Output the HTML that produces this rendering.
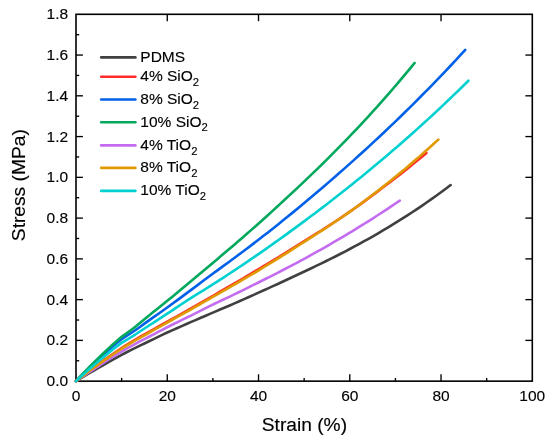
<!DOCTYPE html>
<html><head><meta charset="utf-8"><title>Stress-Strain</title>
<style>
html,body{margin:0;padding:0;background:#fff;}
svg{display:block}
text{font-family:"Liberation Sans",Arial,sans-serif;fill:#000;stroke:#000;stroke-width:0.14px}
</style></head><body>
<svg width="550" height="441" viewBox="0 0 550 441">
<rect width="550" height="441" fill="#fff"/>
<g stroke="#000" stroke-width="1.35" fill="none">
<line x1="121.63" y1="381.15" x2="121.63" y2="377.95"/>
<line x1="167.26" y1="381.15" x2="167.26" y2="374.25"/>
<line x1="167.26" y1="14.3" x2="167.26" y2="21.20"/>
<line x1="212.89" y1="381.15" x2="212.89" y2="377.95"/>
<line x1="258.52" y1="381.15" x2="258.52" y2="374.25"/>
<line x1="258.52" y1="14.3" x2="258.52" y2="21.20"/>
<line x1="304.15" y1="381.15" x2="304.15" y2="377.95"/>
<line x1="349.78" y1="381.15" x2="349.78" y2="374.25"/>
<line x1="349.78" y1="14.3" x2="349.78" y2="21.20"/>
<line x1="395.41" y1="381.15" x2="395.41" y2="377.95"/>
<line x1="441.04" y1="381.15" x2="441.04" y2="374.25"/>
<line x1="441.04" y1="14.3" x2="441.04" y2="21.20"/>
<line x1="486.67" y1="381.15" x2="486.67" y2="377.95"/>
<line x1="76.0" y1="360.77" x2="79.20" y2="360.77"/>
<line x1="76.0" y1="340.39" x2="82.90" y2="340.39"/>
<line x1="532.3" y1="340.39" x2="525.40" y2="340.39"/>
<line x1="76.0" y1="320.01" x2="79.20" y2="320.01"/>
<line x1="76.0" y1="299.63" x2="82.90" y2="299.63"/>
<line x1="532.3" y1="299.63" x2="525.40" y2="299.63"/>
<line x1="76.0" y1="279.25" x2="79.20" y2="279.25"/>
<line x1="76.0" y1="258.87" x2="82.90" y2="258.87"/>
<line x1="532.3" y1="258.87" x2="525.40" y2="258.87"/>
<line x1="76.0" y1="238.49" x2="79.20" y2="238.49"/>
<line x1="76.0" y1="218.11" x2="82.90" y2="218.11"/>
<line x1="532.3" y1="218.11" x2="525.40" y2="218.11"/>
<line x1="76.0" y1="197.72" x2="79.20" y2="197.72"/>
<line x1="76.0" y1="177.34" x2="82.90" y2="177.34"/>
<line x1="532.3" y1="177.34" x2="525.40" y2="177.34"/>
<line x1="76.0" y1="156.96" x2="79.20" y2="156.96"/>
<line x1="76.0" y1="136.58" x2="82.90" y2="136.58"/>
<line x1="532.3" y1="136.58" x2="525.40" y2="136.58"/>
<line x1="76.0" y1="116.20" x2="79.20" y2="116.20"/>
<line x1="76.0" y1="95.82" x2="82.90" y2="95.82"/>
<line x1="532.3" y1="95.82" x2="525.40" y2="95.82"/>
<line x1="76.0" y1="75.44" x2="79.20" y2="75.44"/>
<line x1="76.0" y1="55.06" x2="82.90" y2="55.06"/>
<line x1="532.3" y1="55.06" x2="525.40" y2="55.06"/>
<line x1="76.0" y1="34.68" x2="79.20" y2="34.68"/>
</g>
<rect x="76.0" y="14.3" width="456.30" height="366.85" stroke="#000" stroke-width="1.6" fill="none"/>
<g fill="none" stroke-width="2.6" stroke-linecap="round" stroke-linejoin="round">
<path d="M76.00,381.15 L80.56,378.39 L85.13,375.66 L89.69,372.95 L94.25,370.28 L98.81,367.63 L103.38,365.00 L107.94,362.42 L112.50,359.87 L117.07,357.37 L121.63,354.91 L126.19,352.50 L130.76,350.14 L135.32,347.87 L139.88,345.66 L144.44,343.47 L149.01,341.28 L153.57,339.06 L158.13,336.84 L162.70,334.64 L167.26,332.50 L172.06,330.32 L176.87,328.19 L181.67,326.09 L186.47,324.00 L191.27,321.92 L196.08,319.84 L200.88,317.78 L205.68,315.73 L210.48,313.67 L215.29,311.61 L220.09,309.56 L224.89,307.50 L229.70,305.44 L234.50,303.36 L239.30,301.26 L244.10,299.13 L248.91,296.99 L253.71,294.84 L258.51,292.68 L263.32,290.52 L268.12,288.34 L272.92,286.15 L277.72,283.95 L282.53,281.74 L287.33,279.52 L292.13,277.29 L296.93,275.05 L301.74,272.80 L306.54,270.53 L311.34,268.25 L316.15,265.95 L320.95,263.63 L325.75,261.28 L330.55,258.89 L335.36,256.47 L340.16,254.02 L344.96,251.54 L349.76,249.02 L354.57,246.46 L359.37,243.86 L364.17,241.22 L368.98,238.54 L373.78,235.81 L378.58,233.04 L383.38,230.23 L388.19,227.36 L392.99,224.45 L397.79,221.48 L402.59,218.47 L407.40,215.41 L412.20,212.28 L417.00,209.09 L421.81,205.83 L426.61,202.52 L431.41,199.15 L436.21,195.72 L441.02,192.24 L445.82,188.69 L450.62,185.08" stroke="#404040"/>
<path d="M76.00,381.15 L80.56,377.56 L85.13,374.04 L89.69,370.57 L94.25,367.18 L98.81,363.84 L103.38,360.56 L107.94,357.34 L112.50,354.20 L117.07,351.11 L121.63,348.08 L126.19,345.12 L130.76,342.27 L135.32,339.54 L139.88,336.93 L144.44,334.39 L149.01,331.85 L153.57,329.29 L158.13,326.75 L162.70,324.21 L167.26,321.66 L171.65,319.22 L176.05,316.78 L180.44,314.33 L184.83,311.87 L189.22,309.39 L193.62,306.89 L198.01,304.37 L202.40,301.84 L206.80,299.31 L211.19,296.78 L215.58,294.26 L219.97,291.74 L224.37,289.22 L228.76,286.68 L233.15,284.14 L237.55,281.58 L241.94,279.01 L246.33,276.44 L250.72,273.84 L255.12,271.23 L259.51,268.60 L263.90,265.96 L268.30,263.32 L272.69,260.66 L277.08,258.00 L281.47,255.32 L285.87,252.61 L290.26,249.89 L294.65,247.15 L299.05,244.40 L303.44,241.65 L307.83,238.91 L312.22,236.19 L316.62,233.47 L321.01,230.73 L325.40,227.95 L329.80,225.11 L334.19,222.25 L338.58,219.35 L342.97,216.41 L347.37,213.42 L351.76,210.37 L356.15,207.26 L360.55,204.09 L364.94,200.88 L369.33,197.64 L373.72,194.38 L378.12,191.11 L382.51,187.83 L386.90,184.52 L391.30,181.18 L395.69,177.79 L400.08,174.36 L404.47,170.90 L408.87,167.39 L413.26,163.85 L417.65,160.27 L422.05,156.65 L426.44,152.99" stroke="#ff2c2c"/>
<path d="M76.00,381.15 L80.56,376.48 L85.13,371.90 L89.69,367.43 L94.25,363.06 L98.81,358.79 L103.38,354.61 L107.94,350.52 L112.50,346.56 L117.07,342.73 L121.63,339.12 L126.19,336.16 L130.76,333.24 L135.32,330.22 L139.88,326.93 L144.44,323.58 L149.01,320.33 L153.57,317.13 L158.13,313.95 L162.70,310.74 L167.26,307.49 L172.31,303.82 L177.36,300.11 L182.41,296.37 L187.46,292.62 L192.51,288.87 L197.56,285.10 L202.61,281.32 L207.66,277.54 L212.71,273.79 L217.76,270.08 L222.81,266.40 L227.86,262.73 L232.91,259.03 L237.96,255.28 L243.01,251.50 L248.06,247.70 L253.11,243.86 L258.16,239.99 L263.21,236.09 L268.26,232.15 L273.31,228.17 L278.37,224.16 L283.42,220.11 L288.47,216.01 L293.52,211.88 L298.57,207.72 L303.62,203.53 L308.67,199.31 L313.72,195.06 L318.77,190.78 L323.82,186.47 L328.87,182.12 L333.92,177.74 L338.97,173.33 L344.02,168.88 L349.07,164.40 L354.12,159.88 L359.17,155.32 L364.22,150.73 L369.27,146.10 L374.32,141.42 L379.37,136.71 L384.42,131.96 L389.47,127.17 L394.52,122.34 L399.57,117.46 L404.62,112.54 L409.67,107.58 L414.72,102.58 L419.77,97.53 L424.82,92.43 L429.87,87.29 L434.92,82.10 L439.97,76.87 L445.02,71.58 L450.07,66.25 L455.12,60.86 L460.17,55.43 L465.22,49.95" stroke="#0060e8"/>
<path d="M76.00,381.15 L80.56,376.23 L85.13,371.41 L89.69,366.71 L94.25,362.10 L98.81,357.60 L103.38,353.20 L107.94,348.91 L112.50,344.73 L117.07,340.68 L121.63,336.85 L126.19,333.58 L130.76,330.28 L135.32,326.85 L139.88,323.08 L144.44,319.22 L149.01,315.50 L153.57,311.83 L158.13,308.18 L162.70,304.52 L167.26,300.82 L171.45,297.38 L175.64,293.91 L179.84,290.43 L184.03,286.93 L188.22,283.44 L192.41,279.95 L196.60,276.46 L200.79,272.96 L204.99,269.46 L209.18,265.94 L213.37,262.42 L217.56,258.89 L221.75,255.34 L225.94,251.79 L230.14,248.22 L234.33,244.64 L238.52,241.03 L242.71,237.42 L246.90,233.79 L251.10,230.13 L255.29,226.45 L259.48,222.73 L263.67,218.97 L267.86,215.17 L272.05,211.35 L276.25,207.51 L280.44,203.65 L284.63,199.78 L288.82,195.90 L293.01,192.01 L297.20,188.09 L301.40,184.14 L305.59,180.16 L309.78,176.15 L313.97,172.12 L318.16,168.06 L322.36,163.96 L326.55,159.83 L330.74,155.65 L334.93,151.44 L339.12,147.19 L343.31,142.91 L347.51,138.58 L351.70,134.21 L355.89,129.79 L360.08,125.34 L364.27,120.84 L368.47,116.29 L372.66,111.70 L376.85,107.06 L381.04,102.37 L385.23,97.63 L389.42,92.84 L393.62,88.00 L397.81,83.12 L402.00,78.17 L406.19,73.17 L410.38,68.11 L414.57,63.00" stroke="#00a85c"/>
<path d="M76.00,381.15 L80.56,378.00 L85.13,374.88 L89.69,371.82 L94.25,368.80 L98.81,365.81 L103.38,362.86 L107.94,359.97 L112.50,357.13 L117.07,354.35 L121.63,351.61 L126.19,348.93 L130.76,346.34 L135.32,343.86 L139.88,341.46 L144.44,339.10 L149.01,336.73 L153.57,334.33 L158.13,331.93 L162.70,329.56 L167.26,327.22 L171.20,325.24 L175.14,323.29 L179.08,321.36 L183.02,319.44 L186.97,317.51 L190.91,315.56 L194.85,313.59 L198.79,311.60 L202.73,309.60 L206.67,307.62 L210.61,305.66 L214.55,303.74 L218.50,301.86 L222.44,300.01 L226.38,298.16 L230.32,296.31 L234.26,294.43 L238.20,292.52 L242.14,290.58 L246.08,288.63 L250.03,286.67 L253.97,284.70 L257.91,282.72 L261.85,280.75 L265.79,278.78 L269.73,276.80 L273.67,274.81 L277.61,272.81 L281.55,270.78 L285.50,268.74 L289.44,266.69 L293.38,264.62 L297.32,262.53 L301.26,260.42 L305.20,258.28 L309.14,256.12 L313.08,253.94 L317.03,251.73 L320.97,249.51 L324.91,247.26 L328.85,245.01 L332.79,242.73 L336.73,240.44 L340.67,238.12 L344.61,235.78 L348.55,233.43 L352.50,231.05 L356.44,228.65 L360.38,226.22 L364.32,223.77 L368.26,221.30 L372.20,218.80 L376.14,216.27 L380.08,213.72 L384.03,211.14 L387.97,208.54 L391.91,205.91 L395.85,203.25 L399.79,200.57" stroke="#c46cf0"/>
<path d="M76.00,381.15 L80.56,377.65 L85.13,374.21 L89.69,370.83 L94.25,367.51 L98.81,364.24 L103.38,361.03 L107.94,357.87 L112.50,354.79 L117.07,351.76 L121.63,348.78 L126.19,345.87 L130.76,343.07 L135.32,340.40 L139.88,337.82 L144.44,335.29 L149.01,332.75 L153.57,330.19 L158.13,327.65 L162.70,325.11 L167.26,322.56 L171.85,320.01 L176.45,317.47 L181.04,314.93 L185.64,312.38 L190.23,309.80 L194.82,307.21 L199.42,304.60 L204.01,301.98 L208.61,299.35 L213.20,296.73 L217.79,294.10 L222.39,291.48 L226.98,288.85 L231.58,286.21 L236.17,283.55 L240.76,280.88 L245.36,278.20 L249.95,275.50 L254.54,272.77 L259.14,270.03 L263.73,267.26 L268.33,264.46 L272.92,261.65 L277.51,258.81 L282.11,255.95 L286.70,253.05 L291.30,250.13 L295.89,247.19 L300.48,244.25 L305.08,241.31 L309.67,238.38 L314.27,235.46 L318.86,232.52 L323.45,229.55 L328.05,226.53 L332.64,223.48 L337.24,220.41 L341.83,217.29 L346.42,214.12 L351.02,210.88 L355.61,207.56 L360.21,204.18 L364.80,200.74 L369.39,197.26 L373.99,193.75 L378.58,190.20 L383.17,186.61 L387.77,182.97 L392.36,179.28 L396.96,175.55 L401.55,171.76 L406.14,167.93 L410.74,164.04 L415.33,160.11 L419.93,156.13 L424.52,152.09 L429.11,147.99 L433.71,143.84 L438.30,139.64" stroke="#e09a00"/>
<path d="M76.00,381.15 L80.56,376.96 L85.13,372.85 L89.69,368.82 L94.25,364.86 L98.81,360.98 L103.38,357.16 L107.94,353.42 L112.50,349.77 L117.07,346.23 L121.63,342.87 L126.19,340.08 L130.76,337.33 L135.32,334.53 L139.88,331.52 L144.44,328.47 L149.01,325.50 L153.57,322.56 L158.13,319.62 L162.70,316.68 L167.26,313.71 L172.36,310.34 L177.47,306.92 L182.57,303.51 L187.68,300.14 L192.78,296.86 L197.89,293.67 L202.99,290.52 L208.09,287.36 L213.20,284.15 L218.30,280.88 L223.41,277.59 L228.51,274.27 L233.62,270.91 L238.72,267.53 L243.83,264.11 L248.93,260.66 L254.03,257.18 L259.14,253.66 L264.24,250.11 L269.35,246.52 L274.45,242.89 L279.56,239.25 L284.66,235.58 L289.76,231.88 L294.87,228.16 L299.97,224.41 L305.08,220.63 L310.18,216.82 L315.29,212.98 L320.39,209.11 L325.50,205.20 L330.60,201.27 L335.70,197.30 L340.81,193.30 L345.91,189.27 L351.02,185.20 L356.12,181.10 L361.23,176.96 L366.33,172.78 L371.43,168.57 L376.54,164.32 L381.64,160.03 L386.75,155.71 L391.85,151.34 L396.96,146.94 L402.06,142.49 L407.17,138.00 L412.27,133.47 L417.37,128.90 L422.48,124.29 L427.58,119.63 L432.69,114.93 L437.79,110.18 L442.90,105.39 L448.00,100.55 L453.10,95.66 L458.21,90.73 L463.31,85.75 L468.42,80.73" stroke="#00d0d0"/>
</g>
<g font-size="15.5">
<text x="76.00" y="401.3" text-anchor="middle">0</text>
<text x="167.26" y="401.3" text-anchor="middle">20</text>
<text x="258.52" y="401.3" text-anchor="middle">40</text>
<text x="349.78" y="401.3" text-anchor="middle">60</text>
<text x="441.04" y="401.3" text-anchor="middle">80</text>
<text x="532.30" y="401.3" text-anchor="middle">100</text>
<text x="68.1" y="386.15" text-anchor="end">0.0</text>
<text x="68.1" y="345.39" text-anchor="end">0.2</text>
<text x="68.1" y="304.63" text-anchor="end">0.4</text>
<text x="68.1" y="263.87" text-anchor="end">0.6</text>
<text x="68.1" y="223.11" text-anchor="end">0.8</text>
<text x="68.1" y="182.34" text-anchor="end">1.0</text>
<text x="68.1" y="141.58" text-anchor="end">1.2</text>
<text x="68.1" y="100.82" text-anchor="end">1.4</text>
<text x="68.1" y="60.06" text-anchor="end">1.6</text>
<text x="68.1" y="19.30" text-anchor="end">1.8</text>
</g>
<g font-size="15.5">
<line x1="101.2" y1="57.4" x2="135.4" y2="57.4" stroke="#404040" stroke-width="2.6" stroke-linecap="round"/>
<text x="140.3" y="61.7">PDMS</text>
<line x1="101.2" y1="76.8" x2="135.4" y2="76.8" stroke="#ff2c2c" stroke-width="2.6" stroke-linecap="round"/>
<text x="140.3" y="81.1">4% SiO<tspan dy="4.9" font-size="11.3">2</tspan></text>
<line x1="101.2" y1="99.5" x2="135.4" y2="99.5" stroke="#0060e8" stroke-width="2.6" stroke-linecap="round"/>
<text x="140.3" y="103.8">8% SiO<tspan dy="4.9" font-size="11.3">2</tspan></text>
<line x1="101.2" y1="122.2" x2="135.4" y2="122.2" stroke="#00a85c" stroke-width="2.6" stroke-linecap="round"/>
<text x="140.3" y="126.5">10% SiO<tspan dy="4.9" font-size="11.3">2</tspan></text>
<line x1="101.2" y1="145.4" x2="135.4" y2="145.4" stroke="#c46cf0" stroke-width="2.6" stroke-linecap="round"/>
<text x="140.3" y="149.7">4% TiO<tspan dy="4.9" font-size="11.3">2</tspan></text>
<line x1="101.2" y1="167.9" x2="135.4" y2="167.9" stroke="#e09a00" stroke-width="2.6" stroke-linecap="round"/>
<text x="140.3" y="172.2">8% TiO<tspan dy="4.9" font-size="11.3">2</tspan></text>
<line x1="101.2" y1="190.9" x2="135.4" y2="190.9" stroke="#00d0d0" stroke-width="2.6" stroke-linecap="round"/>
<text x="140.3" y="195.2">10% TiO<tspan dy="4.9" font-size="11.3">2</tspan></text>
</g>
<text x="304.4" y="430.6" font-size="19.2" text-anchor="middle">Strain (%)</text>
<text transform="translate(24.8,185.2) rotate(-90)" font-size="19.2" text-anchor="middle">Stress (MPa)</text>
</svg>
</body></html>
